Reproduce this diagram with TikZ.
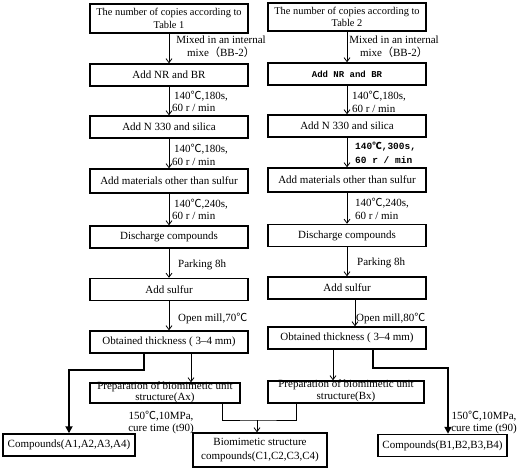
\documentclass[tikz,border=0pt]{standalone}
\usepackage{fontspec}
\setmainfont{Liberation Serif}
\newfontfamily\cjk{Noto Sans CJK SC}
\newfontfamily\monof{Liberation Mono}
\usetikzlibrary{arrows.meta,calc}
\newcommand\degc{{\cjk ℃}}
\newcommand\lpr{{\cjk （}}
\newcommand\rpr{{\cjk ）}}
\begin{document}
\begin{tikzpicture}[x=1pt,y=-1pt,
  box/.style={draw,line width=1.5pt,minimum width=158pt,minimum height=22pt,inner sep=1pt,align=center,font=\fontsize{11}{12.5}\selectfont},
  txt/.style={inner sep=0pt,align=center,font=\fontsize{11}{11.5}\selectfont},
  lbl/.style={inner sep=0pt,align=left,anchor=west,font=\fontsize{11}{12.5}\selectfont},
  mlbl/.style={inner sep=0pt,align=left,anchor=west,font=\monof\bfseries\fontsize{9.5}{13.5}\selectfont},
  conn/.style={line width=0.8pt},
  arr/.style={line width=0.8pt,-{Straight Barb[length=4pt,width=6pt]}},
  bigarr/.style={line width=2pt,-{Triangle[length=7pt,width=7pt]}},
]
\useasboundingbox (0,0) rectangle (525,469);
% left column
\node[box,minimum height=29pt,font=\fontsize{10.4}{12.5}\selectfont] (L1) at (169,18.5) {The number of copies according to\\Table 1};
\node[box] (L2) at (169,75) {Add NR and BR};
\node[box] (L3) at (169,127) {Add N 330 and silica};
\node[box,minimum height=24pt] (L4) at (169,181) {Add materials other than sulfur};
\node[box] (L5) at (169,237) {Discharge compounds};
\node[box] (L6) at (169,289.5) {Add sulfur};
\node[box] (L7) at (169,342) {Obtained thickness ( 3--4 mm)};
\node[box,minimum width=150pt,minimum height=20pt] (L8) at (165,393) {};
\node[txt] (L8t) at (165,392.5) {Preparation of biomimetic unit\\structure(Ax)};
\node[box,minimum width=132pt] (CA) at (69,445) {Compounds(A1,A2,A3,A4)};
\node[box,minimum width=134pt,minimum height=34pt,font=\fontsize{11}{14}\selectfont] (BIO) at (260,450) {Biomimetic structure\\compounds(C1,C2,C3,C4)};
% right column
\node[box,minimum height=28pt,font=\fontsize{10.4}{12.5}\selectfont] (R1) at (347,17) {The number of copies according to\\Table 2};
\node[box,font=\monof\bfseries\fontsize{9}{11}\selectfont] (R2) at (347,74) {Add NR and BR};
\node[box] (R3) at (347,126) {Add N 330 and silica};
\node[box,minimum height=24pt] (R4) at (347,180) {Add materials other than sulfur};
\node[box] (R5) at (347,235.5) {Discharge compounds};
\node[box] (R6) at (347,288) {Add sulfur};
\node[box] (R7) at (347,338) {Obtained thickness ( 3--4 mm)};
\node[box,minimum width=156pt,minimum height=22pt] (R8) at (346,392) {};
\node[txt] (R8t) at (346,391) {Preparation of biomimetic unit\\structure(Bx)};
\node[box,minimum width=129pt] (CB) at (442.5,445.5) {Compounds(B1,B2,B3,B4)};
% left arrows
\draw[arr] (L1) -- (L2);
\draw[arr] (L2) -- (L3);
\draw[arr] (L3) -- (L4);
\draw[arr] (L4) -- (L5);
\draw[arr] (L5) -- (L6);
\draw[arr] (L6) -- (L7);
\draw[bigarr] ([xshift=-25pt]L7.south) -- ++(0,16) -| (CA.north);
\draw[arr] ([xshift=22pt]L7.south) -- ([xshift=22pt]L7.south |- L8.north);
\coordinate (J) at (257,420);
\draw[conn] ([xshift=57pt]L8.south) |- (J) -| ([xshift=-50pt]R8.south);
\draw[arr] (J) -- (J |- BIO.north);
% right arrows
\draw[arr] (R1) -- (R2);
\draw[arr] (R2) -- (R3);
\draw[arr] (R3) -- (R4);
\draw[arr] (R4) -- (R5);
\draw[arr] (R5) -- (R6);
\draw[arr] ([xshift=8pt]R6.south) -- ([xshift=8pt]R6.south |- R7.north);
\draw[arr] ([xshift=-14pt]R7.south) -- ([xshift=-14pt]R7.south |- R8.north);
\draw[bigarr] ([xshift=26pt]R7.south) -- ++(0,18) -| ([xshift=5.5pt]CB.north);
% left labels
\node[lbl,align=center,anchor=center] (la1) at (221,46.5) {Mixed in an internal\\mixe\lpr BB-2\rpr};
\node[lbl] (la2) at (172,101.5) {\,140\degc,180s,\\60 r / min};
\node[lbl] (la3) at (172,155) {\,140\degc,180s,\\60 r / min};
\node[lbl] (la4) at (172,209.5) {\,140\degc,240s,\\60 r / min};
\node[lbl] (la5) at (178,265) {Parking 8h};
\node[lbl] (la6) at (178,318) {Open mill,70\degc};
\node[lbl,align=center,anchor=center] (la7) at (161,422.5) {150\degc,10MPa,\\cure time (t90)};
% right labels
\node[lbl,align=center,anchor=center] (ra1) at (394,46.5) {Mixed in an internal\\mixe\lpr BB-2\rpr};
\node[lbl] (ra2) at (352,102) {140\degc,180s,\\60 r / min};
\node[mlbl] (ra3) at (355,153) {140\degc,300s,\\60 r / min};
\node[lbl] (ra4) at (355,209) {140\degc,240s,\\60 r / min};
\node[lbl] (ra5) at (357,263) {Parking 8h};
\node[lbl] (ra6) at (356,318) {Open mill,80\degc};
\node[lbl,align=center,anchor=center] (ra7) at (484,422.5) {150\degc,10MPa,\\cure time (t90)};
\end{tikzpicture}
\end{document}
